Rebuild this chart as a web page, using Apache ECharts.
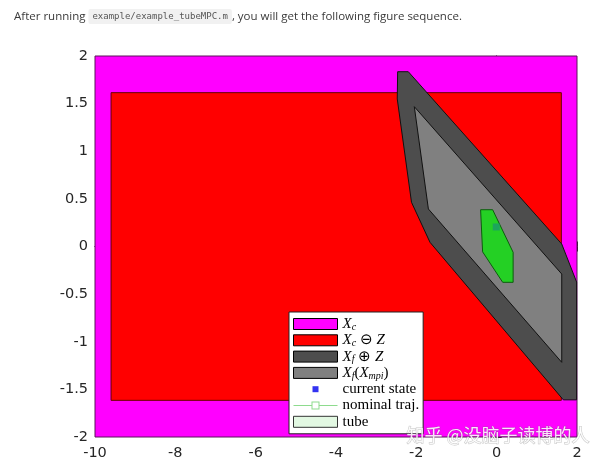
<!DOCTYPE html>
<html>
<head>
<meta charset="utf-8">
<script src="https://cdn.jsdelivr.net/npm/echarts@6/dist/echarts.min.js"></script>
<style>html,body{margin:0;padding:0;background:#fff;}#main{width:600px;height:469px;}</style>
</head>
<body>
<div id="main"></div>
<script>
// ---- data ----
const xTicks = [-10, -8, -6, -4, -2, 0, 2];
const yTicks = [-2, -1.5, -1, -0.5, 0, 0.5, 1, 1.5, 2];
const XcPoly = [[-10, -2], [2, -2], [2, 2], [-10, 2]];
const XcZPoly = [[-9.6, -1.615], [1.61, -1.615], [1.61, 1.615], [-9.6, 1.615]];
const XfZPoly = [[-2.465, 1.835], [-2.2, 1.835], [1.62, 0.026], [1.99, -0.373], [1.99, -1.61], [1.66, -1.61], [-1.66, 0.044], [-2.12, 0.464], [-2.475, 1.549]];
const XfPoly = [[-2.05, 1.468], [1.62, -0.289], [1.62, -1.216], [-1.70, 0.394]];
const tubePoly = [[-0.40, 0.386], [-0.10, 0.386], [0.41, -0.061], [0.41, -0.376], [0.15, -0.376], [-0.35, -0.056]];
const currentState = [[-0.01, 0.205]];
const nominalTraj = [[0.0, 0.0]];
const legendNames = ['Xc', 'XcZ', 'XfZ', 'Xf', 'current state', 'nominal traj.', 'tube'];

const chart = echarts.init(document.getElementById('main'), null, {renderer: 'canvas'});

function polyRender(pts) {
  return function (params, api) {
    if (params.dataIndex !== 0) return null;
    const s = api.style();
    return {
      type: 'polygon',
      shape: {points: pts.map(p => api.coord(p))},
      style: {fill: s.fill, stroke: s.stroke, lineWidth: s.lineWidth}
    };
  };
}
function polySeries(name, pts, fill, stroke, z) {
  return {
    type: 'custom', name: name, data: pts, encode: {x: 0, y: 1},
    renderItem: polyRender(pts), z: z, clip: false,
    itemStyle: {color: fill, borderColor: stroke, borderWidth: 1}
  };
}

const labelMap = {
  'Xc': '{i|X}{s|c}',
  'XcZ': '{i|X}{s|c}{n| ⊖ }{i|Z}',
  'XfZ': '{i|X}{s|f}{n| ⊕ }{i|Z}',
  'Xf': '{i|X}{s|f}{n|(}{i|X}{s|mpi}{n|)}',
  'current state': '{n|current state}',
  'nominal traj.': '{n|nominal traj.}',
  'tube': '{n|tube}'
};
const serif = 'Liberation Serif';

const axisCommon = {
  axisLine: {show: true, lineStyle: {color: '#5e1a5e', width: 1}},
  axisTick: {show: true, inside: true, length: 5, lineStyle: {color: '#262626'}},
  splitLine: {show: false}
};

const option = {
  animation: false,
  backgroundColor: '#ffffff',
  title: {
    text: '{a|After running }{c|example/example_tubeMPC.m}{a|, you will get the following figure sequence.}',
    left: 9, top: 4,
    textStyle: {
      fontWeight: 'normal',
      rich: {
        a: {fontFamily: 'Open Sans', fontSize: 11.5, fontWeight: 'normal', color: '#3a3a3a'},
        c: {fontFamily: 'DejaVu Sans Mono', fontSize: 9, fontWeight: 'normal', color: '#555', backgroundColor: '#f1f1f1', padding: [3, 4, 3, 4], borderRadius: 2}
      }
    }
  },
  grid: {left: 95, right: 23, top: 56, bottom: 32, containLabel: false},
  xAxis: [
    Object.assign({type: 'value', min: -10, max: 2, interval: 2, position: 'bottom',
      axisLabel: {color: '#262626', fontFamily: 'DejaVu Sans', fontSize: 14.5, margin: 9}}, axisCommon),
    Object.assign({type: 'value', min: -10, max: 2, interval: 2, position: 'top',
      axisLabel: {show: false}}, axisCommon)
  ],
  yAxis: [
    Object.assign({type: 'value', min: -2, max: 2, interval: 0.5, position: 'left',
      axisLabel: {color: '#262626', fontFamily: 'DejaVu Sans', fontSize: 14.5, margin: 7}}, axisCommon),
    Object.assign({type: 'value', min: -2, max: 2, interval: 0.5, position: 'right',
      axisLabel: {show: false}}, axisCommon)
  ],
  legend: {
    orient: 'vertical', left: 289, top: 312,
    itemWidth: 44, itemHeight: 11, itemGap: 0.3,
    padding: [4, 4, 4, 4],
    backgroundColor: '#ffffff', borderColor: '#222', borderWidth: 1,
    selectedMode: false,
    formatter: name => labelMap[name],
    textStyle: {
      lineHeight: 16, padding: [0, 0, 0, 0],
      rich: {
        i: {fontFamily: serif, fontStyle: 'italic', fontSize: 15, color: '#000', lineHeight: 16, verticalAlign: 'middle'},
        s: {fontFamily: serif, fontStyle: 'italic', fontSize: 10, color: '#000', lineHeight: 16, verticalAlign: 'bottom'},
        n: {fontFamily: serif, fontSize: 15, color: '#000', lineHeight: 16, verticalAlign: 'middle'}
      }
    },
    data: [
      {name: 'Xc', icon: 'rect', itemStyle: {color: '#ff00ff', borderColor: '#000', borderWidth: 1}},
      {name: 'XcZ', icon: 'rect', itemStyle: {color: '#ff0000', borderColor: '#000', borderWidth: 1}},
      {name: 'XfZ', icon: 'rect', itemStyle: {color: '#4d4d4d', borderColor: '#000', borderWidth: 1}},
      {name: 'Xf', icon: 'rect', itemStyle: {color: '#808080', borderColor: '#000', borderWidth: 1}},
      {name: 'current state', icon: 'path://M0,0M44,11M19,2.5h6v6h-6z', itemStyle: {color: '#0000ee', borderWidth: 0}},
      {name: 'nominal traj.', icon: 'path://M0,0M44,11M0,5h18v1h-18zM26,5h18v1h-18zM18,1.5h8v8h-8zM19,2.5v6h6v-6z', itemStyle: {color: '#8edb8e', borderWidth: 0}},
      {name: 'tube', icon: 'rect', itemStyle: {color: '#e2f8e2', borderColor: '#333', borderWidth: 1}}
    ]
  },
  graphic: [{
    type: 'text', left: 406, top: 426, z: 100,
    style: {text: '知乎 @没脑子读博的人', font: '18px "Noto Sans CJK SC"', fill: 'rgba(255,255,255,0.88)', stroke: 'rgba(110,110,110,0.4)', lineWidth: 1}
  }],
  series: [
    polySeries('Xc', XcPoly, '#ff00ff', '#5a145a', 1),
    polySeries('XcZ', XcZPoly, '#ff0000', '#6a0000', 2),
    polySeries('XfZ', XfZPoly, '#4d4d4d', '#111', 3),
    polySeries('Xf', XfPoly, '#808080', '#111', 4),
    {type: 'line', name: 'nominal traj.', data: nominalTraj, z: 4, symbol: 'rect', symbolSize: 6,
      lineStyle: {color: '#8edb8e', width: 1}, itemStyle: {color: '#e2f8e2', borderColor: '#8edb8e'}},
    polySeries('tube', tubePoly, '#24d024', '#0d5c0d', 5),
    {type: 'scatter', name: 'current state', data: currentState, z: 6, symbol: 'rect', symbolSize: 7,
      itemStyle: {color: '#1a9a6a'}}
  ]
};
chart.setOption(option);
</script>
</body>
</html>
